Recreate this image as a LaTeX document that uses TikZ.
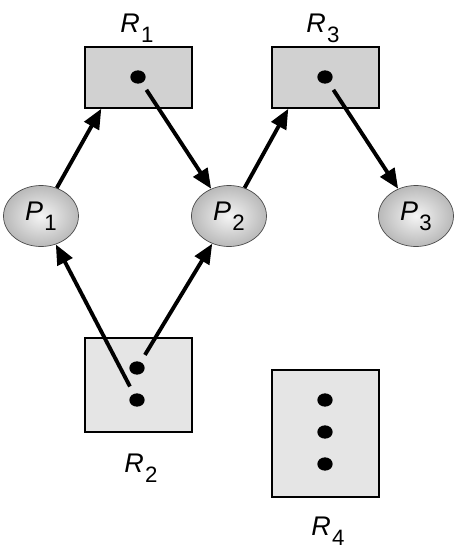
\documentclass[tikz,border=0pt]{standalone}
\usepackage{fontspec}
\setmainfont{Liberation Sans}
\usetikzlibrary{shapes.geometric,arrows.meta}
\definecolor{heldgray}{gray}{0.82}
\definecolor{freegray}{gray}{0.90}
\newcommand{\lbl}[2]{\textit{#1}\kern0.05em\raisebox{-0.38em}{\fontsize{19}{19}\selectfont #2}}

\begin{document}
\begin{tikzpicture}[x=0.03cm, y=-0.03cm,
  res/.style={rectangle, draw, line width=1.2pt, inner sep=0pt, minimum width=3.21cm},
  proc/.style={ellipse, draw=black!70, line width=0.6pt, inner sep=0pt, minimum width=2.25cm, minimum height=1.83cm, inner color=gray!8, outer color=gray!55},
  inst/.style={ellipse, fill=black, inner sep=0pt, minimum width=0.46cm, minimum height=0.4cm},
  link/.style={-{Triangle[length=17pt,width=14pt]}, line width=3.3pt},
  every node/.style={font=\fontsize{23}{25}\selectfont}]
\useasboundingbox (0,0) rectangle (474,552);
\node (r1) at (138.5,77.5) [res, fill=heldgray, minimum height=1.83cm] {};
\node (r3) at (325.5,77.5) [res, fill=heldgray, minimum height=1.83cm] {};
\node (r2) at (138.5,385) [res, fill=freegray, minimum height=2.82cm] {};
\node (r4) at (325.5,433.5) [res, fill=freegray, minimum height=3.81cm] {};
\node (l1) at (137,28) {\lbl{R}{1}};
\node (l3) at (323,28) {\lbl{R}{3}};
\node (l2) at (141,468) {\lbl{R}{2}};
\node (l4) at (328,531) {\lbl{R}{4}};
\node (r1a) at (138,77) [inst] {};
\node (r3a) at (325,77) [inst] {};
\node (r2a) at (137,368) [inst] {};
\node (r2b) at (137,400) [inst] {};
\node (r4a) at (325,400) [inst] {};
\node (r4b) at (325,432) [inst] {};
\node (r4c) at (325,464) [inst] {};
\node (p1) at (41,216) [proc] {\lbl{P}{1}};
\node (p2) at (229,216) [proc] {\lbl{P}{2}};
\node (p3) at (416,216) [proc] {\lbl{P}{3}};
\draw[link] (p1) -- (r1.-140);
\draw[link] (p2) -- (r3.-140);
\draw[link, shorten <=7pt] (r1a) -- (p2);
\draw[link, shorten <=7pt] (r3a) -- (p3);
\draw[link, shorten <=7pt] (r2b) -- (p1);
\draw[link, shorten <=7pt] (r2a) -- (p2);
\end{tikzpicture}
\end{document}
